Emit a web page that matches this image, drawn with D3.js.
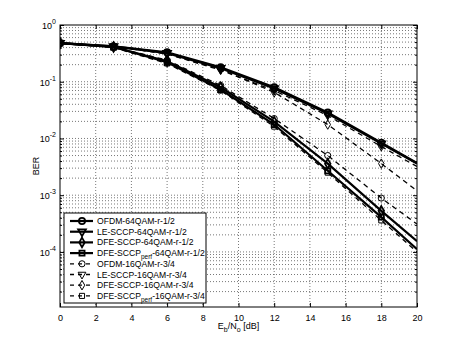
<!DOCTYPE html>
<html><head><meta charset="utf-8">
<script src="https://cdn.jsdelivr.net/npm/d3@7"></script>
<style>body{margin:0;background:#fff} svg{display:block} text{font-family:"Liberation Sans",Arial,sans-serif;fill:#000}</style>
</head><body><svg id="c" width="461" height="346"></svg>
<script>
// ---- data ----
const snrDb = [0, 3, 6, 9, 12, 15, 18, 20];
const markerSnr = [0, 3, 6, 9, 12, 15, 18];
const ofdm64 = [0.48, 0.42, 0.33, 0.18, 0.080, 0.0286, 0.0084, 0.0037];
const le64 = [0.48, 0.42, 0.32, 0.173, 0.076, 0.0275, 0.0081, 0.0036];
const dfe64 = [0.48, 0.41, 0.23, 0.080, 0.0198, 0.0036, 0.00053, 0.000155];
const dfePerf64 = [0.48, 0.41, 0.22, 0.073, 0.0176, 0.0027, 0.00041, 0.000112];
const ofdm16 = [0.48, 0.41, 0.24, 0.086, 0.0224, 0.0050, 0.00089, 0.00031];
const le16 = [0.48, 0.42, 0.31, 0.16, 0.070, 0.0254, 0.0072, 0.0032];
const dfe16 = [0.48, 0.42, 0.31, 0.166, 0.065, 0.0176, 0.0036, 0.0012];
const dfePerf16 = [0.48, 0.40, 0.21, 0.070, 0.0162, 0.0025, 0.00036, 0.0001];
const xTicks = [0, 2, 4, 6, 8, 10, 12, 14, 16, 18, 20];
const yTickExps = [0, -1, -2, -3, -4];
const legendLabels = [
  ["OFDM-64QAM-r-1/2"],
  ["LE-SCCP-64QAM-r-1/2"],
  ["DFE-SCCP-64QAM-r-1/2"],
  ["DFE-SCCP", "perf", "-64QAM-r-1/2"],
  ["OFDM-16QAM-r-3/4"],
  ["LE-SCCP-16QAM-r-3/4"],
  ["DFE-SCCP-16QAM-r-3/4"],
  ["DFE-SCCP", "perf", "-16QAM-r-3/4"]
];

const series = [
  {v: ofdm64, sym: "circle", dash: false},
  {v: le64, sym: "triangle", dash: false},
  {v: dfe64, sym: "diamond", dash: false},
  {v: dfePerf64, sym: "square", dash: false},
  {v: ofdm16, sym: "circle", dash: true},
  {v: le16, sym: "triangle", dash: true},
  {v: dfe16, sym: "diamond", dash: true},
  {v: dfePerf16, sym: "square", dash: true}
];

// ---- layout ----
const L = 60, R = 417, T = 25, B = 307;
const svg = d3.select("#c");
const x = d3.scaleLinear().domain([0, 20]).range([L, R]);
const y = d3.scaleLog().domain([1.07e-5, 1]).range([B, T]);

// grid
const g = svg.append("g");
xTicks.forEach(t => {
  if (t === 0 || t === 20) return;
  g.append("line").attr("x1", x(t)).attr("x2", x(t)).attr("y1", T).attr("y2", B)
    .attr("stroke", "#555").attr("stroke-width", 0.8).attr("stroke-dasharray", "1,2");
});
const yGrid = [];
for (let k = -5; k <= -1; k++) for (let m = 1; m <= 9; m++) {
  const v = m * Math.pow(10, k);
  if (v > 1.07e-5 && v < 1) yGrid.push(v);
}
yGrid.forEach(v => {
  g.append("line").attr("x1", L).attr("x2", R).attr("y1", y(v)).attr("y2", y(v))
    .attr("stroke", "#555").attr("stroke-width", 0.8).attr("stroke-dasharray", "1,2");
});

// axes
const xAxis = d3.axisBottom(x).tickValues(xTicks).tickSize(-4).tickPadding(8).tickFormat(d3.format("d"));
const ax = svg.append("g").attr("transform", `translate(0,${B})`).call(xAxis);
ax.select(".domain").remove();
ax.selectAll("text").attr("font-size", 9).style("font-family", "Liberation Sans, Arial, sans-serif");
svg.append("g").attr("transform", `translate(0,${T})`).call(d3.axisTop(x).tickValues(xTicks).tickSize(-4).tickFormat(""))
  .select(".domain").remove();

const majorY = yTickExps.map(e => Math.pow(10, e));
const yAxis = d3.axisLeft(y).tickValues(majorY).tickSize(-4).tickFormat("");
const ay = svg.append("g").attr("transform", `translate(${L},0)`).call(yAxis);
ay.select(".domain").remove();
svg.append("g").attr("transform", `translate(${L},0)`).call(d3.axisLeft(y).tickValues(yGrid.filter(v => !majorY.includes(v))).tickSize(-2).tickFormat(""))
  .select(".domain").remove();
svg.append("g").attr("transform", `translate(${R},0)`).call(d3.axisRight(y).tickValues(majorY).tickSize(-4).tickFormat(""))
  .select(".domain").remove();
svg.append("g").attr("transform", `translate(${R},0)`).call(d3.axisRight(y).tickValues(yGrid.filter(v => !majorY.includes(v))).tickSize(-2).tickFormat(""))
  .select(".domain").remove();
svg.selectAll(".tick line").attr("stroke", "#000");

yTickExps.forEach(e => {
  const t = svg.append("text").attr("x", L - 4).attr("y", y(Math.pow(10, e)) + 4)
    .attr("text-anchor", "end").attr("font-size", 9);
  t.append("tspan").text("10");
  t.append("tspan").attr("dy", -5).attr("font-size", 7).text(String(e));
});

// frame
svg.append("rect").attr("x", L).attr("y", T).attr("width", R - L).attr("height", B - T)
  .attr("fill", "none").attr("stroke", "#000").attr("stroke-width", 1);

// labels
svg.append("text").attr("transform", `translate(39,${(T + B) / 2}) rotate(-90)`)
  .attr("text-anchor", "middle").attr("font-size", 9).text("BER");
const xl = svg.append("text").attr("x", x(10)).attr("y", 329).attr("text-anchor", "middle").attr("font-size", 9);
xl.append("tspan").text("E");
xl.append("tspan").attr("dy", 3).attr("font-size", 7).text("b");
xl.append("tspan").attr("dy", -3).text("/N");
xl.append("tspan").attr("dy", 3).attr("font-size", 7).text("o");
xl.append("tspan").attr("dy", -3).text(" [dB]");

// symbols
function symPath(name, size) {
  const s = {circle: d3.symbolCircle, triangle: d3.symbolTriangle, diamond: d3.symbolDiamond, square: d3.symbolSquare}[name];
  return d3.symbol().type(s).size(size)();
}
const symSize = {circle: 30, triangle: 26, diamond: 26, square: 26};

const clip = svg.append("clipPath").attr("id", "pc").append("rect")
  .attr("x", L).attr("y", T).attr("width", R - L).attr("height", B - T);
const plot = svg.append("g").attr("clip-path", "url(#pc)");
const line = d3.line().x(d => x(d[0])).y(d => y(d[1]));

function drawMarker(sel, s, px, py) {
  const sw = s.dash ? 1 : 1.8;
  sel.append("path").attr("d", symPath(s.sym, symSize[s.sym]))
    .attr("transform", `translate(${px},${py})` + (s.sym === "triangle" ? " rotate(180)" : ""))
    .attr("fill", "none").attr("stroke", "#000").attr("stroke-width", sw);
}

series.slice().reverse().forEach(s => {
  const pts = snrDb.map((d, i) => [d, s.v[i]]);
  plot.append("path").attr("d", line(pts)).attr("fill", "none").attr("stroke", "#000")
    .attr("stroke-width", s.dash ? 1.3 : 2.2).attr("stroke-dasharray", s.dash ? "5,4" : null);
  pts.filter(p => markerSnr.includes(p[0])).forEach(p => drawMarker(plot, s, x(p[0]), y(p[1])));
});

// legend
const lg = svg.append("g");
lg.append("rect").attr("x", 64).attr("y", 213).attr("width", 142).attr("height", 90)
  .attr("fill", "#fff").attr("stroke", "#000").attr("stroke-width", 1);
series.forEach((s, i) => {
  const ly = 221 + i * 10.7;
  lg.append("line").attr("x1", 70).attr("x2", 93).attr("y1", ly).attr("y2", ly).attr("stroke", "#000")
    .attr("stroke-width", s.dash ? 1.3 : 2.2).attr("stroke-dasharray", s.dash ? "4,4" : null);
  drawMarker(lg, s, 82, ly);
  const t = lg.append("text").attr("x", 97).attr("y", ly + 3).attr("font-size", 8.6);
  const parts = legendLabels[i];
  t.append("tspan").text(parts[0]);
  if (parts.length > 1) {
    t.append("tspan").attr("dy", 3).attr("font-size", 6.5).text(parts[1]);
    t.append("tspan").attr("dy", -3).text(parts[2]);
  }
});
</script></body></html>
